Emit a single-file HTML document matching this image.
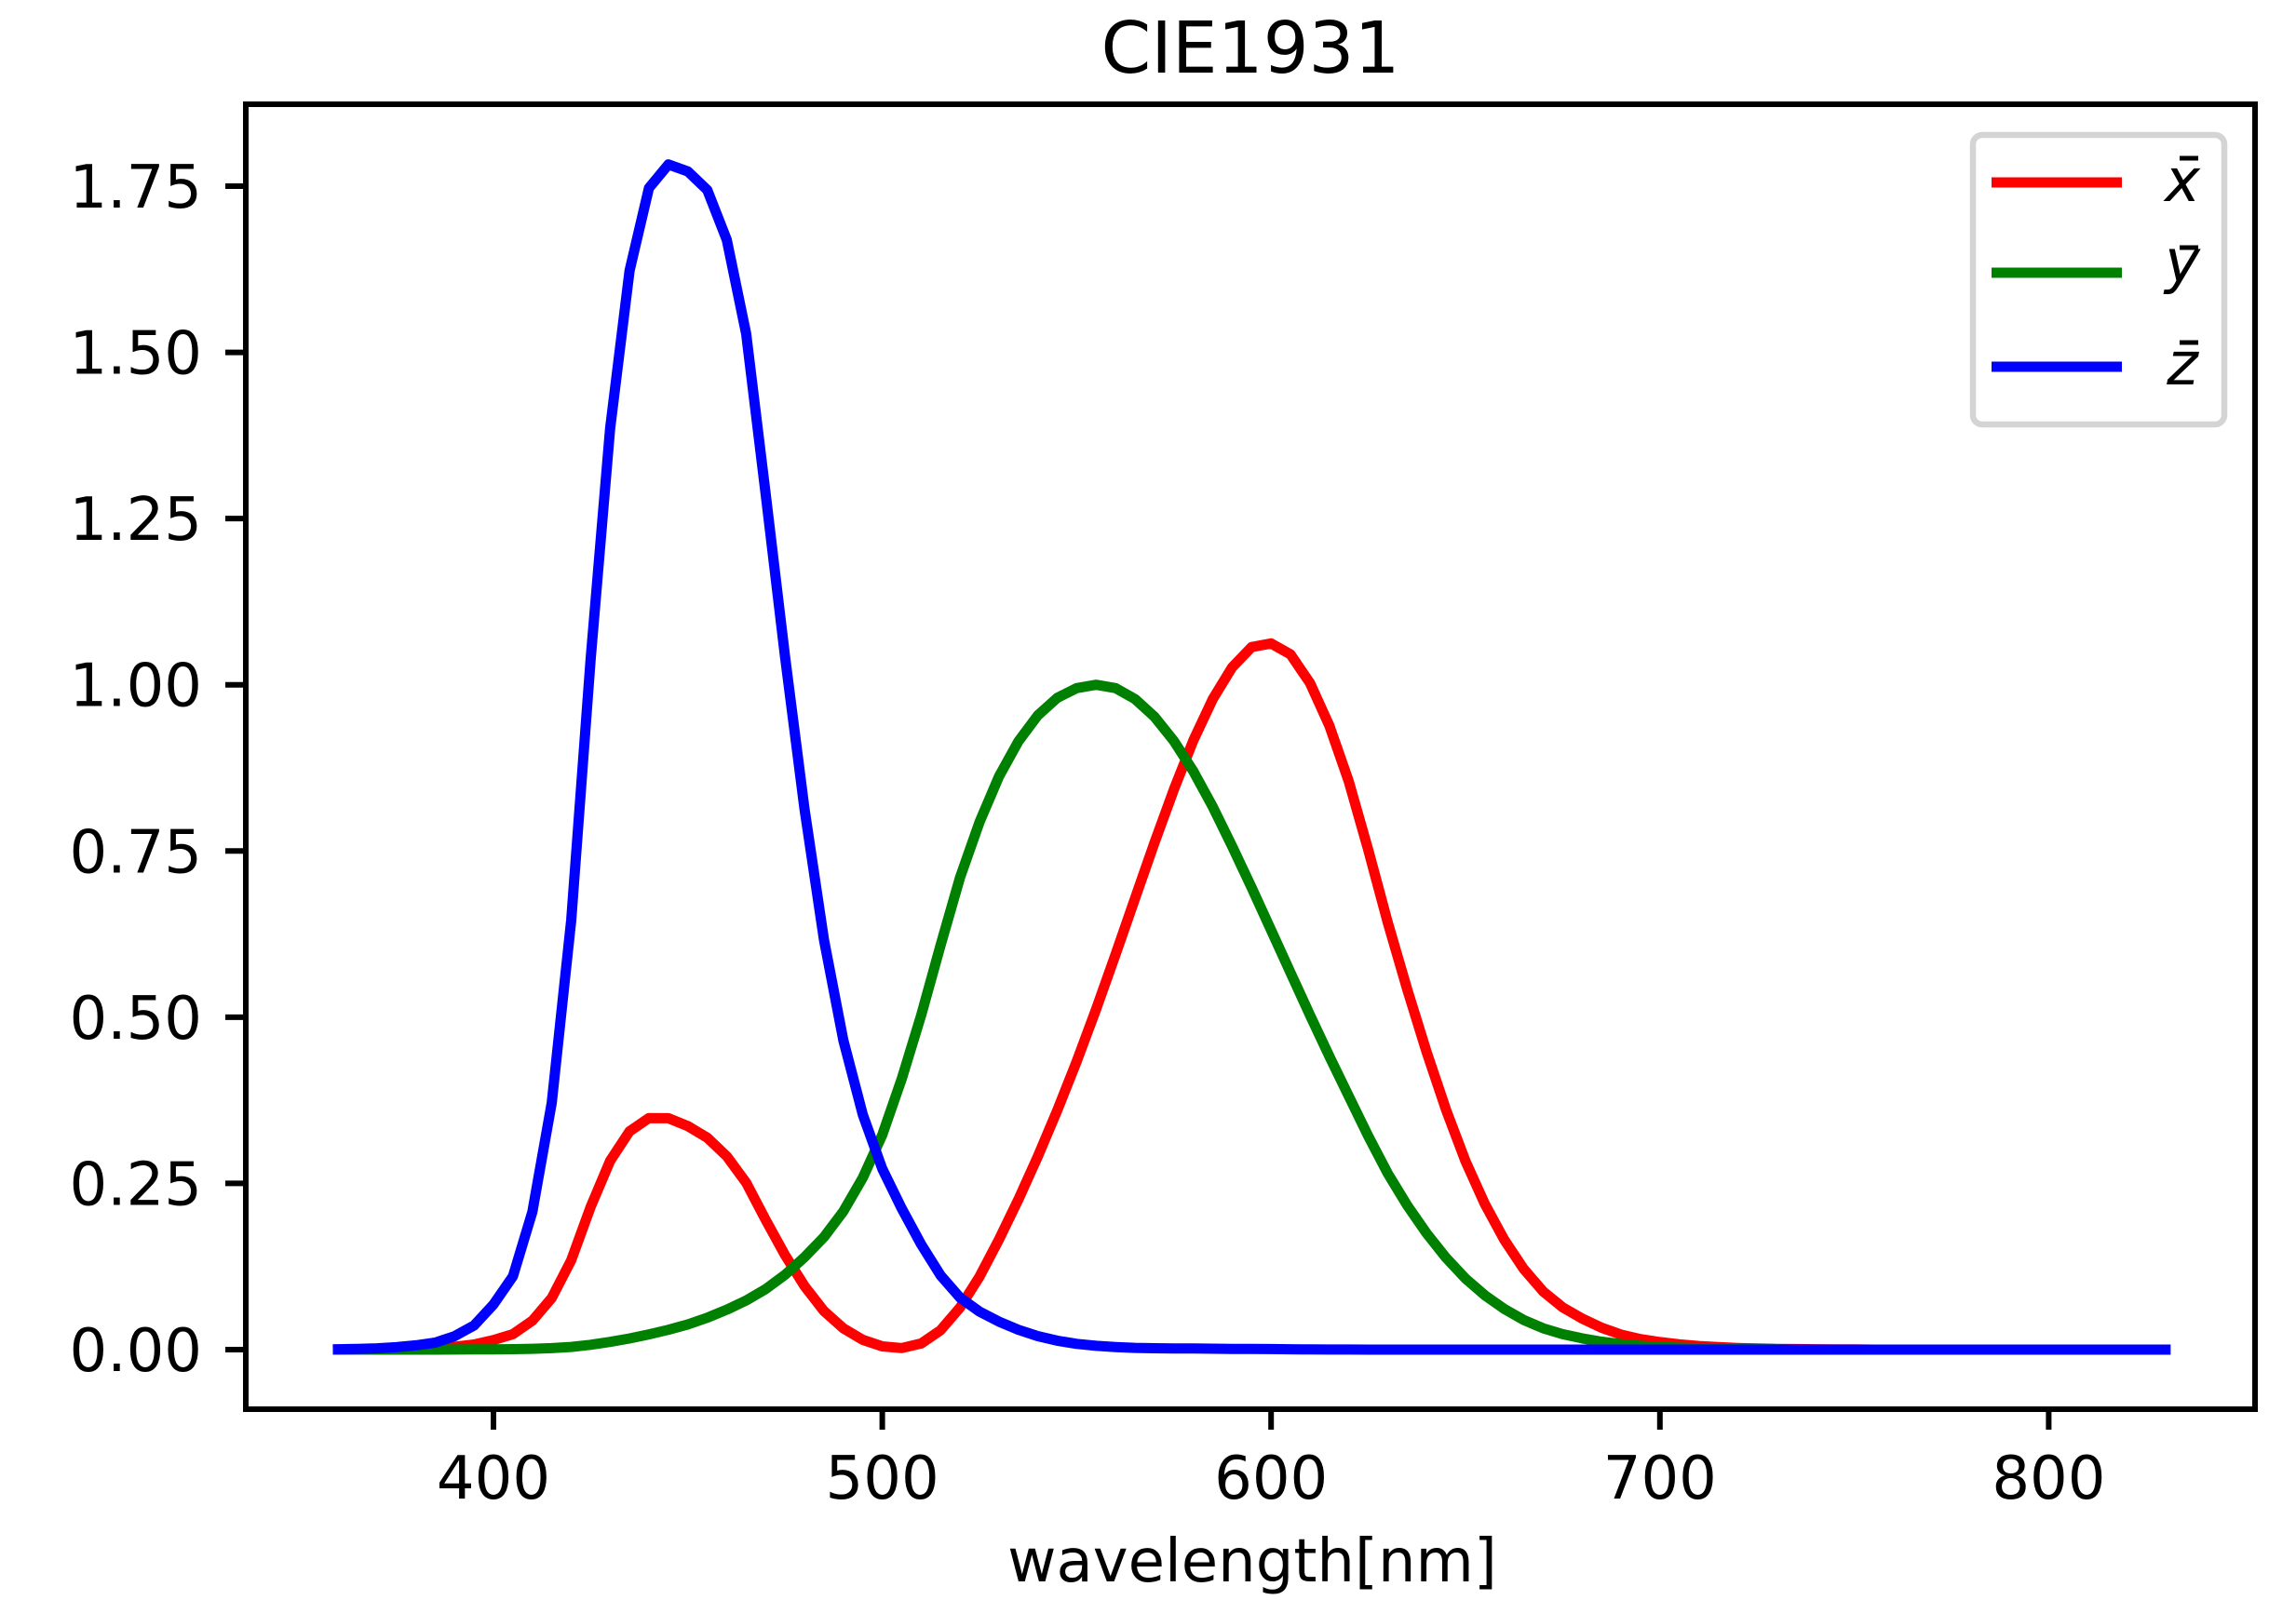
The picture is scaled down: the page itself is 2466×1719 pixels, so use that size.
<!DOCTYPE html>
<html><head><meta charset="utf-8"><style>
html,body{margin:0;padding:0;background:#fff;}
svg{display:block;}
text{font-family:"DejaVu Sans","Liberation Sans",sans-serif;fill:#000;}
</style></head><body>
<svg id="s" width="2466" height="1719" viewBox="0 0 2466 1719" xmlns="http://www.w3.org/2000/svg">
<rect width="2466" height="1719" fill="#fff"/>
<text x="1343" y="78" font-size="77" text-anchor="middle">CIE1931</text>
<g id="curves" fill="none" stroke-width="11" stroke-linejoin="round" stroke-linecap="square"></g>
<rect x="264" y="112" width="2158" height="1402" fill="none" stroke="#000" stroke-width="6"/>
<g stroke="#000" stroke-width="6">
<line x1="530" y1="1514" x2="530" y2="1536"/>
<line x1="947.6" y1="1514" x2="947.6" y2="1536"/>
<line x1="1365.2" y1="1514" x2="1365.2" y2="1536"/>
<line x1="1782.8" y1="1514" x2="1782.8" y2="1536"/>
<line x1="2200.4" y1="1514" x2="2200.4" y2="1536"/>
<line x1="242" y1="1450" x2="264" y2="1450"/>
<line x1="242" y1="1271.4" x2="264" y2="1271.4"/>
<line x1="242" y1="1092.9" x2="264" y2="1092.9"/>
<line x1="242" y1="914.3" x2="264" y2="914.3"/>
<line x1="242" y1="735.7" x2="264" y2="735.7"/>
<line x1="242" y1="557.1" x2="264" y2="557.1"/>
<line x1="242" y1="378.6" x2="264" y2="378.6"/>
<line x1="242" y1="200" x2="264" y2="200"/>
</g>
<g font-size="64" text-anchor="middle">
<text x="530" y="1610">400</text>
<text x="947.6" y="1610">500</text>
<text x="1365.2" y="1610">600</text>
<text x="1782.8" y="1610">700</text>
<text x="2200.4" y="1610">800</text>
</g>
<g font-size="64" text-anchor="end">
<text x="217" y="1473">0.00</text>
<text x="217" y="1294.4">0.25</text>
<text x="217" y="1115.9">0.50</text>
<text x="217" y="937.3">0.75</text>
<text x="217" y="758.7">1.00</text>
<text x="217" y="580.1">1.25</text>
<text x="217" y="401.6">1.50</text>
<text x="217" y="223">1.75</text>
</g>
<text x="1345" y="1699" font-size="64" text-anchor="middle">wavelength[nm]</text>
<rect x="2119" y="145" width="270" height="311" rx="10" fill="#fff" fill-opacity="0.8" stroke="#d4d4d4" stroke-width="6.5"/>
<g stroke-width="11">
<line x1="2139" y1="196" x2="2279" y2="196" stroke="#ff0000"/>
<line x1="2139" y1="293" x2="2279" y2="293" stroke="#008000"/>
<line x1="2139" y1="394" x2="2279" y2="394" stroke="#0000ff"/>
</g>
<g font-size="64" font-style="italic" text-anchor="middle">
<text x="2344" y="216">x</text>
<text x="2344" y="303">y</text>
<text x="2344" y="413">z</text>
</g>
<g stroke="#000" stroke-width="5">
<line x1="2341" y1="170" x2="2361" y2="170"/>
<line x1="2341" y1="266" x2="2361" y2="266"/>
<line x1="2341" y1="368" x2="2361" y2="368"/>
</g>
</svg>
<script>
var XB=[0.00013,0.000232,0.000415,0.000742,0.001368,0.002236,0.004243,0.00765,0.01431,0.02319,0.04351,0.07763,0.13438,0.21477,0.2839,0.3285,0.34828,0.34806,0.3362,0.3187,0.2908,0.2511,0.19536,0.1421,0.09564,0.05795,0.03201,0.0147,0.0049,0.0024,0.0093,0.0291,0.06327,0.1096,0.1655,0.22575,0.2904,0.3597,0.43345,0.51205,0.5945,0.6784,0.7621,0.8425,0.9163,0.9786,1.0263,1.0567,1.0622,1.0456,1.0026,0.9384,0.85445,0.7514,0.6424,0.5419,0.4479,0.3608,0.2835,0.2187,0.1649,0.1212,0.0874,0.0636,0.04677,0.0329,0.0227,0.01584,0.011359,0.007911,0.005411,0.003728,0.002492,0.001614,0.001149,0.0008,0.000574,0.000398,0.000271];
var YB=[0.0000039,0.0000064,0.000012,0.000022,0.000039,0.000064,0.00012,0.000217,0.000396,0.00064,0.00121,0.00218,0.004,0.0073,0.0116,0.01684,0.023,0.0298,0.038,0.048,0.06,0.0739,0.09098,0.1126,0.13902,0.1693,0.20802,0.2586,0.323,0.4073,0.503,0.6082,0.71,0.7932,0.862,0.91485,0.954,0.9803,0.99495,1.0,0.995,0.9786,0.952,0.9154,0.87,0.8163,0.757,0.6949,0.631,0.5668,0.503,0.4412,0.381,0.321,0.265,0.217,0.175,0.1382,0.107,0.0816,0.061,0.04458,0.032,0.0232,0.017,0.01192,0.00821,0.005723,0.004102,0.002929,0.002091,0.001484,0.001047,0.00074,0.00052];
var ZB=[0.000606,0.00109,0.00195,0.0036,0.0065,0.0105,0.0201,0.0362,0.0679,0.1102,0.2074,0.3713,0.6456,1.0391,1.3856,1.623,1.7471,1.7826,1.7721,1.7441,1.6692,1.5281,1.2876,1.0419,0.813,0.6162,0.4652,0.3533,0.272,0.2123,0.1582,0.1117,0.0782,0.0573,0.0422,0.0298,0.0203,0.0134,0.0087,0.0057,0.0039,0.0027,0.0021,0.0018,0.0017,0.0014,0.0011,0.001,0.0008,0.0006,0.0003,0.0002,0.0002];
function X(l){return 530+(l-400)*4.176;}
function Y(v){return 1450-v*714.3;}
var fs=[[XB,'#ff0000'],[YB,'#008000'],[ZB,'#0000ff']];
var gEl=document.getElementById('curves');var h='';
fs.forEach(function(f){var d='';for(var i=0,l=360;l<=830;l+=5,i++){var v=i<f[0].length?f[0][i]:0;d+=(i==0?'M':'L')+X(l).toFixed(1)+' '+Y(v).toFixed(1);}
h+='<path d="'+d+'" stroke="'+f[1]+'"/>';});
gEl.innerHTML=h;
</script>
</body></html>
